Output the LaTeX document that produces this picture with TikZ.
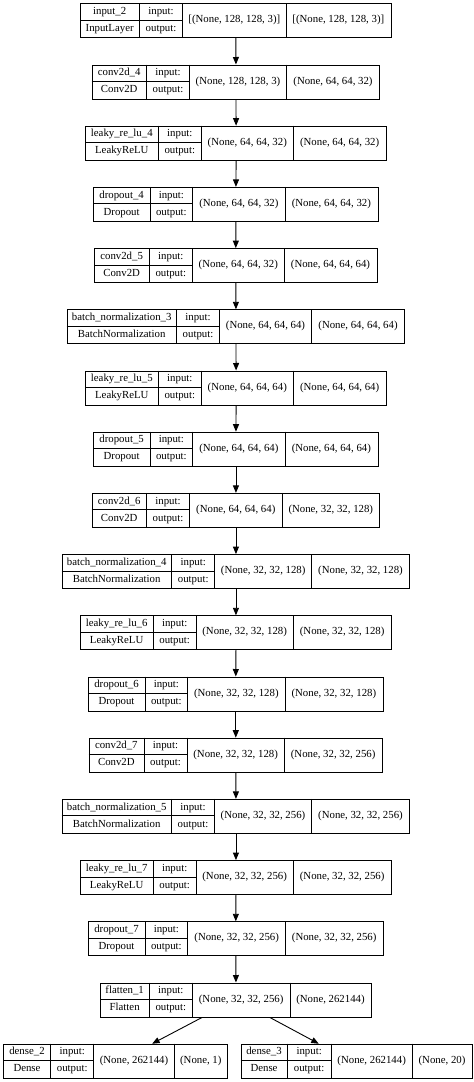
\documentclass[tikz,border=0pt]{standalone}
\usepackage{fontspec}
\setmainfont{Liberation Serif}
\usetikzlibrary{arrows.meta}
\tikzset{
  rowbox/.style={draw=black, line width=0.9pt, rectangle, inner sep=0pt, minimum height=34pt},
  rowline/.style={draw=black, line width=0.9pt},
  txt/.style={inner sep=0pt, text height=7.5pt, text depth=2.3pt, font=\fontsize{10.8}{12}\selectfont},
  flow/.style={draw=black, line width=0.9pt, -{Triangle[length=7.5pt,width=6pt]}}
}
\newcommand{\boxrow}[7]{%
  \node[rowbox, minimum width={(#7-#3)*1pt}, anchor=north west] (#1) at (#3,#2) {};
  \draw[rowline] (#4,#2) -- ++(0,34);
  \draw[rowline] (#5,#2) -- ++(0,34);
  \draw[rowline] (#6,#2) -- ++(0,34);
  \draw[rowline] (#3,{#2+17}) -- (#5,{#2+17});
  \coordinate (#1-nm) at ({(#3+#4)/2},{#2+8.5});
  \coordinate (#1-ty) at ({(#3+#4)/2},{#2+25.5});
  \coordinate (#1-ip) at ({(#4+#5)/2},{#2+8.5});
  \coordinate (#1-op) at ({(#4+#5)/2},{#2+25.5});
  \coordinate (#1-in) at ({(#5+#6)/2},{#2+17});
  \coordinate (#1-out) at ({(#6+#7)/2},{#2+17});
}
\newcommand{\rowtext}[5]{%
  \node[txt] (#1-t1) at (#1-nm) {#2};
  \node[txt] (#1-t2) at (#1-ty) {#3};
  \node[txt] (#1-t3) at (#1-ip) {input:};
  \node[txt] (#1-t4) at (#1-op) {output:};
  \node[txt] (#1-t5) at (#1-in) {#4};
  \node[txt] (#1-t6) at (#1-out) {#5};
}
\begin{document}
\begin{tikzpicture}[x=1pt, y=-1pt]
\useasboundingbox (0,0) rectangle (474,1082);
\fill[white] (0,0) rectangle (474,1082);

\boxrow{r1}{3.3}{80}{139.3}{182.7}{286}{390.7}
\rowtext{r1}{input\_2}{InputLayer}{[(None, 128, 128, 3)]}{[(None, 128, 128, 3)]}
\boxrow{r2}{64.5}{91.7}{146.7}{189.3}{286.7}{379.3}
\rowtext{r2}{conv2d\_4}{Conv2D}{(None, 128, 128, 3)}{(None, 64, 64, 32)}
\boxrow{r3}{125.7}{85.3}{158.3}{201.3}{293.3}{386}
\rowtext{r3}{leaky\_re\_lu\_4}{LeakyReLU}{(None, 64, 64, 32)}{(None, 64, 64, 32)}
\boxrow{r4}{186.9}{93.3}{150}{192.7}{285}{377.7}
\rowtext{r4}{dropout\_4}{Dropout}{(None, 64, 64, 32)}{(None, 64, 64, 32)}
\boxrow{r5}{248.1}{94}{149.3}{192.3}{284.3}{376.7}
\rowtext{r5}{conv2d\_5}{Conv2D}{(None, 64, 64, 32)}{(None, 64, 64, 64)}
\boxrow{r6}{309.3}{66.7}{176.7}{219.3}{311.7}{404.3}
\rowtext{r6}{batch\_normalization\_3}{BatchNormalization}{(None, 64, 64, 64)}{(None, 64, 64, 64)}
\boxrow{r7}{370.5}{85.3}{158.3}{201.3}{293.3}{386}
\rowtext{r7}{leaky\_re\_lu\_5}{LeakyReLU}{(None, 64, 64, 64)}{(None, 64, 64, 64)}
\boxrow{r8}{431.7}{93.3}{150}{192.7}{285}{377.7}
\rowtext{r8}{dropout\_5}{Dropout}{(None, 64, 64, 64)}{(None, 64, 64, 64)}
\boxrow{r9}{492.9}{91.7}{146.7}{189.3}{282.3}{379.3}
\rowtext{r9}{conv2d\_6}{Conv2D}{(None, 64, 64, 64)}{(None, 32, 32, 128)}
\boxrow{r10}{554.1}{61.7}{171.7}{214.7}{311.7}{409.3}
\rowtext{r10}{batch\_normalization\_4}{BatchNormalization}{(None, 32, 32, 128)}{(None, 32, 32, 128)}
\boxrow{r11}{615.3}{80}{153.3}{196}{293.3}{391}
\rowtext{r11}{leaky\_re\_lu\_6}{LeakyReLU}{(None, 32, 32, 128)}{(None, 32, 32, 128)}
\boxrow{r12}{676.5}{88}{145}{187.7}{285}{382.7}
\rowtext{r12}{dropout\_6}{Dropout}{(None, 32, 32, 128)}{(None, 32, 32, 128)}
\boxrow{r13}{737.7}{88.7}{144}{187}{284.3}{382}
\rowtext{r13}{conv2d\_7}{Conv2D}{(None, 32, 32, 128)}{(None, 32, 32, 256)}
\boxrow{r14}{798.9}{61.7}{171.7}{214.3}{311.7}{409.3}
\rowtext{r14}{batch\_normalization\_5}{BatchNormalization}{(None, 32, 32, 256)}{(None, 32, 32, 256)}
\boxrow{r15}{860.1}{80}{153.3}{196}{293.3}{391}
\rowtext{r15}{leaky\_re\_lu\_7}{LeakyReLU}{(None, 32, 32, 256)}{(None, 32, 32, 256)}
\boxrow{r16}{921.3}{88}{145}{187.7}{285.7}{382.7}
\rowtext{r16}{dropout\_7}{Dropout}{(None, 32, 32, 256)}{(None, 32, 32, 256)}
\boxrow{r17}{982.5}{100}{149.3}{192.3}{290}{371}
\rowtext{r17}{flatten\_1}{Flatten}{(None, 32, 32, 256)}{(None, 262144)}
\boxrow{r18}{1043.7}{3.3}{50.7}{93.7}{174.3}{227.3}
\rowtext{r18}{dense\_2}{Dense}{(None, 262144)}{(None, 1)}
\boxrow{r19}{1043.7}{240.7}{287.3}{331}{412.3}{471.7}
\rowtext{r19}{dense\_3}{Dense}{(None, 262144)}{(None, 20)}

\foreach \a/\b in {r1/r2,r2/r3,r3/r4,r4/r5,r5/r6,r6/r7,r7/r8,r8/r9,r9/r10,r10/r11,r11/r12,r12/r13,r13/r14,r14/r15,r15/r16,r16/r17}
  \draw[flow] (\a.south) -- (\b.north);
\draw[flow] ([xshift=-33.8pt]r17.south) -- ([xshift=36.4pt]r18.north);
\draw[flow] ([xshift=33.8pt]r17.south) -- ([xshift=-37.9pt]r19.north);
\end{tikzpicture}
\end{document}
